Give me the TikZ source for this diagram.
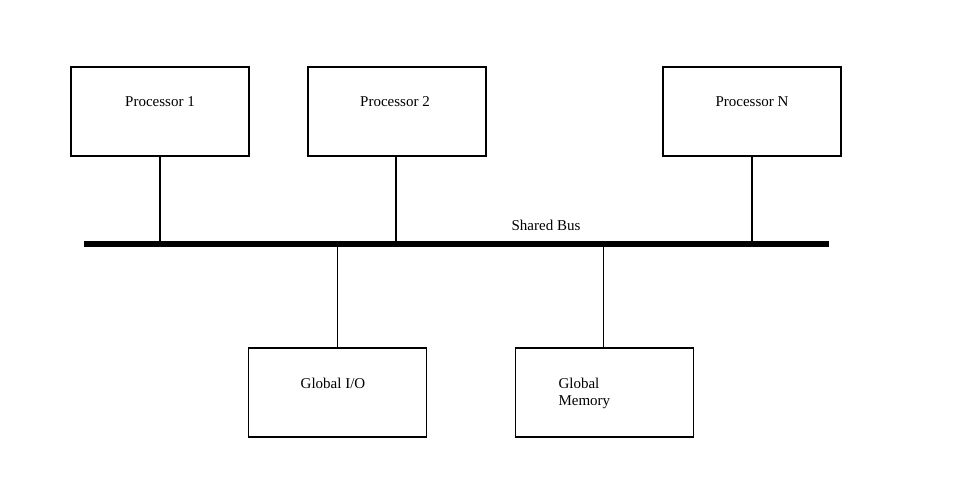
\documentclass[tikz,border=0pt]{standalone}
\usepackage{fontspec}
\setmainfont{Liberation Serif}
\begin{document}
\begin{tikzpicture}[x=1pt,y=-1pt,
  box/.style={draw,line width=1.2pt,minimum width=178pt,minimum height=89pt,inner sep=0pt},
  lbl/.style={font=\fontsize{15}{17}\selectfont},
  wire/.style={line width=1.2pt}]
\useasboundingbox (0,0) rectangle (956,486);
\node[box] (p1) at (160,111.5) {};
\node[box] (p2) at (397,111.5) {};
\node[box] (pn) at (752,111.5) {};
\node[box] (io) at (337.5,392.5) {};
\node[box] (mem) at (604.5,392.5) {};
\node[lbl] at (160,102) {Processor 1};
\node[lbl] at (395,102) {Processor 2};
\node[lbl] at (752,102) {Processor N};
\node[lbl] at (333,383) {Global I/O};
\node[lbl,align=left,anchor=west] at (555,393) {Global\\Memory};
\coordinate (bl) at (84,244);
\coordinate (br) at (829,244);
\draw[line width=6pt] (bl) -- (br);
\node[lbl] (bus) at (546,225) {Shared Bus};
\draw[wire] (p1.south) -- (p1.south |- bl);
\draw[wire] (p2.south) ++(-1,0) -- ++(0,88);
\draw[wire] (pn.south) -- (pn.south |- bl);
\draw[wire] (io.north) -- (io.north |- bl);
\draw[wire] (mem.north) ++(-1,0) -- ++(0,-104);
\end{tikzpicture}
\end{document}
